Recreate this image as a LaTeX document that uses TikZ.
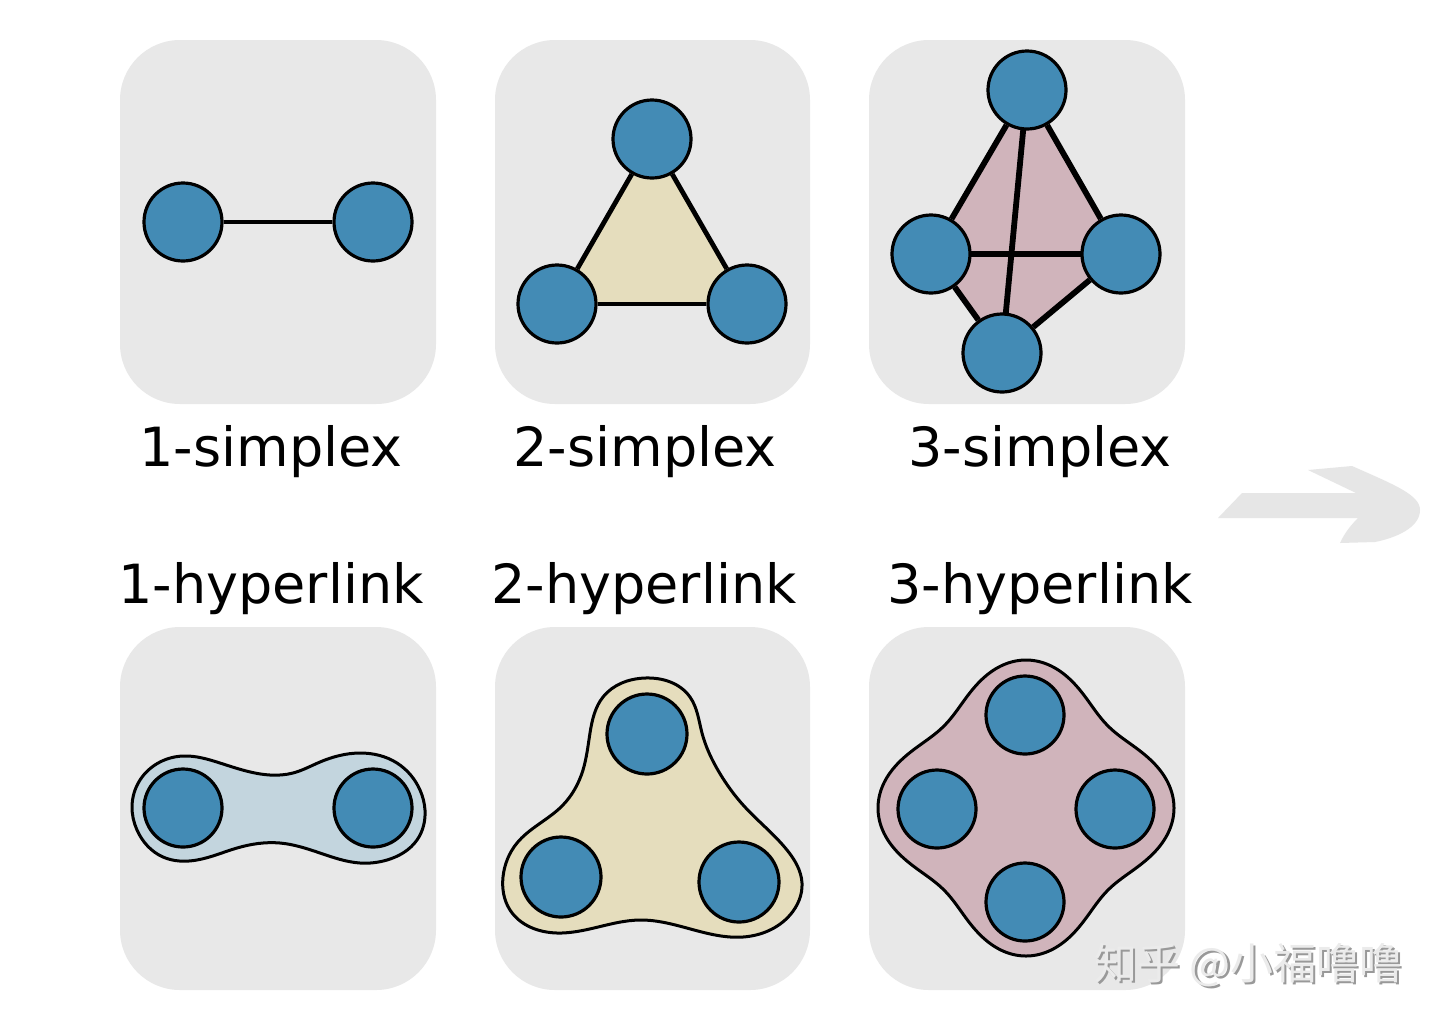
\documentclass[tikz,border=0pt]{standalone}
\usepackage{fontspec}
\usetikzlibrary{hobby}
\setmainfont{DejaVu Sans}
\newfontfamily\cjk{Noto Sans CJK SC}
\definecolor{panelgray}{HTML}{E8E8E8}
\definecolor{vblue}{HTML}{438BB5}
\definecolor{triyel}{HTML}{E5DDBD}
\definecolor{tetpink}{HTML}{D0B4BB}
\definecolor{linkblue}{HTML}{C3D5DE}
\definecolor{arrowgray}{HTML}{E6E6E6}
\pgfdeclarelayer{panellayer}
\pgfdeclarelayer{filllayer}
\pgfsetlayers{panellayer,filllayer,main}
\tikzset{
  panel/.style={fill=panelgray, draw=none, rounded corners=30pt},
  vtx/.style={circle, fill=vblue, draw=black, line width=1.6pt, minimum size=39pt, inner sep=0pt},
  lbl/.style={font=\fontsize{27}{31}\selectfont, anchor=base},
  blob/.style={draw=black, line width=1.5pt},
  edge1/.style={draw=black, line width=1.7pt},
  edge2/.style={draw=black, line width=2.4pt},
  edge3/.style={draw=black, line width=2.9pt},
}
\begin{document}
\begin{tikzpicture}[x=0.5pt,y=-0.5pt]
\useasboundingbox (0,0) rectangle (1440,1024);
% panels
\begin{pgfonlayer}{panellayer}
\fill[white] (0,0) rectangle (1440,1024);
\fill[panel] (120,40) rectangle (436,404);
\fill[panel] (495,40) rectangle (810,404);
\fill[panel] (869,40) rectangle (1185,404);
\fill[panel] (120,627) rectangle (436,990);
\fill[panel] (495,627) rectangle (810,990);
\fill[panel] (869,627) rectangle (1185,990);
\end{pgfonlayer}
% 1-simplex
\node[vtx] (a1) at (183,222) {};
\node[vtx] (b1) at (373,222) {};
\draw[edge1] (a1) -- (b1);
% 2-simplex
\node[vtx] (t2) at (652,139) {};
\node[vtx] (l2) at (557,304) {};
\node[vtx] (r2) at (747,304) {};
\begin{pgfonlayer}{filllayer}
\fill[triyel] (t2.center) -- (l2.center) -- (r2.center) -- cycle;
\end{pgfonlayer}
\draw[edge2] (t2) -- (l2);
\draw[edge2] (t2) -- (r2);
\draw[edge2] (l2) -- (r2);
% 3-simplex
\node[vtx] (t3) at (1027,90) {};
\node[vtx] (l3) at (931,254) {};
\node[vtx] (r3) at (1121,254) {};
\node[vtx] (b3) at (1002,353) {};
\begin{pgfonlayer}{filllayer}
\fill[tetpink] (t3.center) -- (r3.center) -- (b3.center) -- (l3.center) -- cycle;
\draw[edge3] (t3.center) -- (b3.center);
\draw[edge3] (l3.center) -- (r3.center);
\end{pgfonlayer}
\draw[edge3] (t3) -- (l3);
\draw[edge3] (t3) -- (r3);
\draw[edge3] (l3) -- (b3);
\draw[edge3] (r3) -- (b3);
% labels
\node[lbl] (s1) at (271,466) {1-simplex};
\node[lbl] (s2) at (645,466) {2-simplex};
\node[lbl] (s3) at (1040,466) {3-simplex};
\node[lbl] (h1) at (271,603) {1-hyperlink};
\node[lbl] (h2) at (644,603) {2-hyperlink};
\node[lbl] (h3) at (1040,603) {3-hyperlink};
% 1-hyperlink
\node[vtx] (a4) at (183,808) {};
\node[vtx] (b4) at (373,808) {};
\begin{pgfonlayer}{filllayer}
\draw[blob, fill=linkblue] plot[closed hobby] coordinates {
 (132,807) (140,780) (160,762) (183,756) (220,763) (270,775) (293,773)
 (320,762) (360,753) (397,763) (420,790) (425,810) (417,840) (387,860)
 (360,863) (320,853) (280,843) (237,848) (197,860) (163,857) (137,830)};
\end{pgfonlayer}
% 2-hyperlink
\node[vtx, minimum size=40pt] (t5) at (647,734) {};
\node[vtx, minimum size=40pt] (l5) at (561,877) {};
\node[vtx, minimum size=40pt] (r5) at (739,882) {};
\begin{pgfonlayer}{filllayer}
\draw[blob, fill=triyel] plot[closed hobby] coordinates {
 (645,678) (690,697) (702,733) (719,772) (744,806) (787,850) (802,883)
 (790,915) (743,937) (640,920) (557,933) (510,910) (503,877) (517,843)
 (562,806) (583,770) (590,733) (603,697)};
\end{pgfonlayer}
% 3-hyperlink
\node[vtx] (t6) at (1025,715) {};
\node[vtx] (l6) at (937,809) {};
\node[vtx] (r6) at (1115,809) {};
\node[vtx] (b6) at (1025,902) {};
\begin{pgfonlayer}{filllayer}
\draw[blob, fill=tetpink] plot[domain=0:358, samples=180, smooth cycle]
 ({1026+(132+16*cos(4*\x))*cos(\x)}, {808+(132+16*cos(4*\x))*sin(\x)});
\end{pgfonlayer}
% arrow
\fill[arrowgray] (1218,518) -- (1242,493) -- (1356,493) -- (1308,470) -- (1352,466)
  .. controls (1395,485) and (1420,495) .. (1420,510)
  .. controls (1420,528) and (1395,538) .. (1375,542)
  -- (1340,543) .. controls (1345,532) and (1352,524) .. (1358,518) -- cycle;
% watermark
\node[font=\cjk\fontsize{21.5}{24}\selectfont, text=black!40, anchor=west] (wms) at (1089.5,967.5) {知乎 @小福噜噜};
\node[font=\cjk\fontsize{21.5}{24}\selectfont, text=black!8, anchor=west] (wm) at (1087,965) {知乎 @小福噜噜};
\end{tikzpicture}
\end{document}
